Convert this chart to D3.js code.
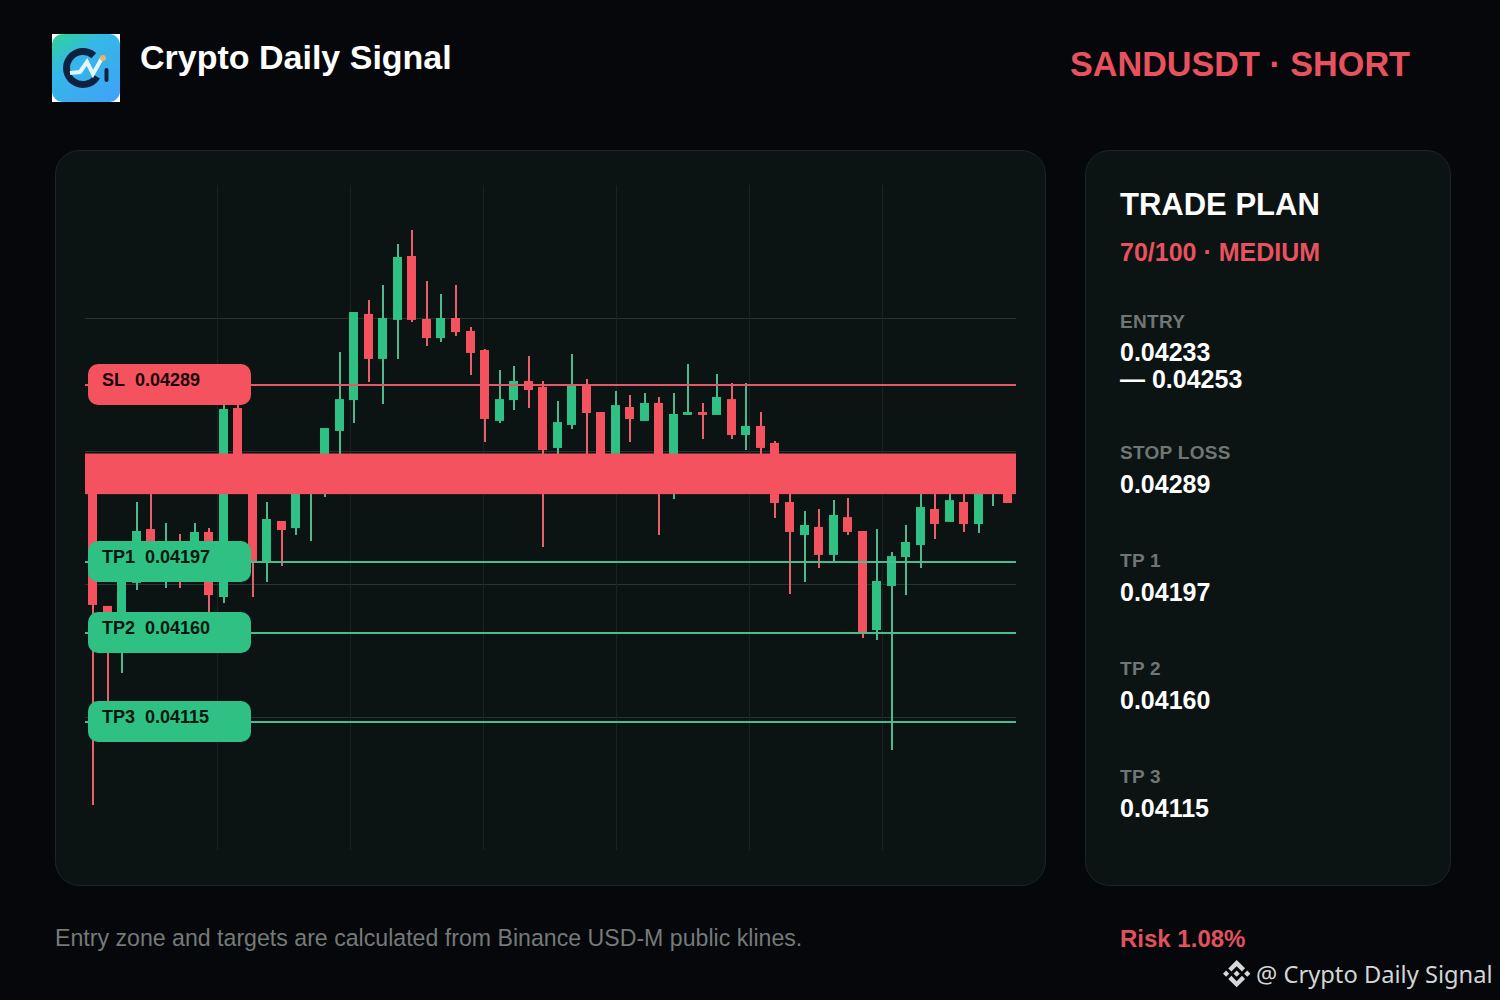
<!DOCTYPE html>
<html>
<head>
<meta charset="utf-8">
<script src="https://cdn.jsdelivr.net/npm/d3@7"></script>
<style>
html,body{margin:0;padding:0;background:#05070a;}
svg{display:block;}
text{font-family:"Liberation Sans",Arial,sans-serif;}
</style>
</head>
<body>
<svg width="1500" height="1000"></svg>
<script>
/* candle values */
const opens=[0.04245,0.041746,0.04157,0.041865,0.042144,0.041953,0.042025,0.041958,0.042129,0.041792,0.042771,0.042398,0.041973,0.042186,0.042149,0.042372,0.042372,0.042652,0.042812,0.043258,0.043025,0.043227,0.043558,0.043232,0.043133,0.043237,0.04317,0.043071,0.042704,0.042812,0.042911,0.04288,0.042564,0.042683,0.042895,0.04275,0.04245,0.042776,0.042704,0.042797,0.042398,0.042735,0.04275,0.042735,0.042817,0.042631,0.042678,0.04259,0.042284,0.042113,0.042155,0.04201,0.042206,0.042134,0.041621,0.041849,0.041999,0.042061,0.042248,0.042181,0.042284,0.04217,0.042357,0.042398];
const highs=[0.042502,0.041746,0.041906,0.042284,0.042398,0.042175,0.042118,0.042175,0.042149,0.042838,0.042838,0.042476,0.042284,0.042186,0.04245,0.042502,0.042667,0.043061,0.043268,0.04333,0.043408,0.04362,0.043693,0.043429,0.043361,0.043408,0.04319,0.043076,0.042968,0.042988,0.04304,0.042911,0.042807,0.043051,0.042921,0.04275,0.042859,0.042838,0.042849,0.042828,0.042849,0.042999,0.042797,0.042947,0.0429,0.0429,0.04275,0.0426,0.042424,0.042237,0.042248,0.042294,0.042305,0.042134,0.042144,0.042025,0.042165,0.042424,0.042398,0.042346,0.042398,0.04245,0.04245,0.042398];
const lows=[0.040715,0.041243,0.041399,0.041828,0.041906,0.041839,0.041839,0.041891,0.041647,0.041761,0.042346,0.041792,0.04187,0.041953,0.042113,0.042082,0.04231,0.042502,0.042693,0.042906,0.042792,0.043025,0.043216,0.043092,0.043113,0.043144,0.042942,0.042595,0.042693,0.042761,0.042771,0.042051,0.042527,0.042662,0.042502,0.042424,0.042424,0.042595,0.042704,0.042113,0.0423,0.042735,0.04261,0.042735,0.04261,0.042553,0.042527,0.042201,0.041808,0.04187,0.041942,0.041973,0.042113,0.04158,0.04157,0.041,0.041802,0.041942,0.042092,0.042181,0.042129,0.042124,0.042263,0.042279];
const closes=[0.041751,0.04157,0.041906,0.042134,0.041953,0.042025,0.041958,0.042129,0.041802,0.042766,0.042398,0.041973,0.042196,0.042139,0.042398,0.04245,0.042667,0.042817,0.043268,0.043025,0.043237,0.043553,0.043227,0.043133,0.043237,0.043164,0.043056,0.042714,0.042817,0.042911,0.042864,0.042553,0.042698,0.042885,0.042745,0.04245,0.042786,0.042714,0.042797,0.04245,0.04274,0.04275,0.042735,0.042828,0.042631,0.042678,0.042564,0.042279,0.042129,0.042165,0.04201,0.042217,0.042129,0.041606,0.041875,0.042004,0.042077,0.042258,0.04217,0.042294,0.04217,0.042372,0.04245,0.042279];

const entryLow=0.04233, entryHigh=0.04253;
const levelNames=['SL','TP1','TP2','TP3'];
const levelPrices=[0.04289,0.041975,0.041605,0.041147];
const levelTexts=['0.04289','0.04197','0.04160','0.04115'];
const planLabels=['STOP LOSS','TP 1','TP 2','TP 3'];
const planValues=['0.04289','0.04197','0.04160','0.04115'];

const red='#f4525f', green='#2fc084', textRed='#e8525f', labelGrey='#6f7674';
const svg=d3.select('svg');

const plotLeft=85, plotRight=1016, plotTop=185, plotBottom=850;
const x=d3.scalePoint().domain(d3.range(opens.length)).range([92.5,1007.3]);
const y=d3.scaleLinear().domain([0.04289,0.04115]).range([385,721]);
const bodyLeft=i=>Math.round(x(i)-4.5);

const defs=svg.append('defs');
const logoGrad=defs.append('linearGradient').attr('id','logoGrad')
  .attr('x1',0).attr('y1',0).attr('x2',0.75).attr('y2',1);
logoGrad.append('stop').attr('offset','0%').attr('stop-color','#2fd58f');
logoGrad.append('stop').attr('offset','40%').attr('stop-color','#34b8e8');
logoGrad.append('stop').attr('offset','100%').attr('stop-color','#3fa4f6');

/* header */
const logo=svg.append('g');
logo.append('rect').attr('x',52).attr('y',34).attr('width',68).attr('height',68).attr('fill','#fff');
logo.append('rect').attr('x',52).attr('y',34).attr('width',68).attr('height',68).attr('rx',11).attr('fill','url(#logoGrad)');
logo.append('path')
  .attr('d',d3.arc()({innerRadius:13,outerRadius:20,startAngle:2.13,endAngle:7.0,cornerRadius:3}))
  .attr('transform','translate(83,68)').attr('fill','#0d2240');
logo.append('rect').attr('x',104.5).attr('y',68).attr('width',4).attr('height',14).attr('rx',2).attr('fill','#0d2240');
logo.append('path').attr('d','M70,73L80,72L87,62L93,74L102,58').attr('fill','none')
  .attr('stroke','#e4f6fb').attr('stroke-width',4);
logo.append('circle').attr('cx',103).attr('cy',58).attr('r',3).attr('fill','#f0b35a');

svg.append('text').attr('x',140).attr('y',69).text('Crypto Daily Signal')
  .attr('font-size',34).attr('font-weight',700).attr('fill','#fff');
svg.append('text').attr('x',1070).attr('y',76).text('SANDUSDT · SHORT')
  .attr('font-size',34.2).attr('font-weight',700).attr('fill',textRed);

/* panels */
svg.append('rect').attr('x',55.5).attr('y',150.5).attr('width',990).attr('height',735).attr('rx',24)
  .attr('fill','#0c1313').attr('stroke','#1c2624');
svg.append('rect').attr('x',1085.5).attr('y',150.5).attr('width',365).attr('height',735).attr('rx',24)
  .attr('fill','#0c1313').attr('stroke','#1c2624');

/* grid */
const hGrid=d3.range(1,5).map(i=>plotTop+i*(plotBottom-plotTop)/5);
const vGrid=d3.range(1,7).map(i=>plotLeft+i*(plotRight-plotLeft)/7);
svg.append('g').selectAll('line').data(hGrid).enter().append('line')
  .attr('x1',plotLeft).attr('x2',plotRight).attr('y1',d=>Math.round(d)+0.5).attr('y2',d=>Math.round(d)+0.5)
  .attr('stroke','#2a3331').attr('stroke-width',1);
svg.append('g').selectAll('line').data(vGrid).enter().append('line')
  .attr('y1',plotTop).attr('y2',plotBottom).attr('x1',d=>Math.round(d)-0.5).attr('x2',d=>Math.round(d)-0.5)
  .attr('stroke','#1a2321').attr('stroke-width',1);

/* candles */
const candle=svg.append('g').selectAll('g').data(opens).enter().append('g');
candle.append('line')
  .attr('x1',(d,i)=>bodyLeft(i)+5).attr('x2',(d,i)=>bodyLeft(i)+5)
  .attr('y1',(d,i)=>y(highs[i])).attr('y2',(d,i)=>y(lows[i]))
  .attr('stroke',(d,i)=>closes[i]>=opens[i]?'#4fb98c':'#e8606c')
  .attr('stroke-width',2);
candle.append('rect')
  .attr('x',(d,i)=>bodyLeft(i)).attr('width',9)
  .attr('y',(d,i)=>y(Math.max(opens[i],closes[i])))
  .attr('height',(d,i)=>Math.max(1.5,Math.abs(y(opens[i])-y(closes[i]))))
  .attr('fill',(d,i)=>closes[i]>=opens[i]?green:red);

/* entry zone */
svg.append('rect').attr('x',plotLeft).attr('width',plotRight-plotLeft)
  .attr('y',y(entryHigh)-1).attr('height',y(entryLow)-y(entryHigh)+2).attr('fill',red);

/* levels */
const level=svg.append('g').selectAll('g').data(levelPrices).enter().append('g');
level.append('line').attr('x1',plotLeft).attr('x2',plotRight)
  .attr('y1',d=>Math.round(y(d))).attr('y2',d=>Math.round(y(d)))
  .attr('stroke',(d,i)=>i==0?'#e4596a':'#4abc8d').attr('stroke-width',2);
level.append('rect').attr('x',88).attr('width',163).attr('height',41).attr('rx',10)
  .attr('y',d=>Math.round(y(d))-21).attr('fill',(d,i)=>i==0?red:green);
level.append('text').attr('x',102).attr('y',d=>Math.round(y(d))+1)
  .text((d,i)=>levelNames[i]+'\u00a0\u00a0'+levelTexts[i])
  .attr('font-size',18).attr('font-weight',700).attr('fill',(d,i)=>i==0?'#1c0608':'#04180f');

/* trade plan */
const plan=svg.append('g');
const addText=(t,xp,yp,size,color,weight)=>plan.append('text').attr('x',xp).attr('y',yp).text(t)
  .attr('font-size',size).attr('fill',color).attr('font-weight',weight||700);
addText('TRADE PLAN',1120,215,31,'#fff');
addText('70/100 · MEDIUM',1120,261,25,textRed);
addText('ENTRY',1120,328,19,labelGrey).attr('letter-spacing',0.3);
addText('0.04233',1120,361,25,'#fff');
addText('— 0.04253',1120,388,25,'#fff');
const labelY=[459,567,675,783], valueY=[493,601,709,817];
planLabels.forEach((t,i)=>{
  addText(t,1120,labelY[i],19,labelGrey).attr('letter-spacing',0.3);
  addText(planValues[i],1120,valueY[i],25,'#fff');
});

/* footer */
addText('Entry zone and targets are calculated from Binance USD-M public klines.',55,946,23.15,'#747a78',400);
addText('Risk 1.08%',1120,947,24,'#e0525f');

svg.append('path')
  .attr('d','M16.624 13.9202l2.7175 2.7154-7.353 7.353-7.353-7.352 2.7175-2.7164 4.6355 4.6595 4.6356-4.6595zm4.6366-4.6366L24 12l-2.7154 2.7164L18.5682 12l2.6924-2.7164zm-9.272.001l2.7163 2.6914-2.7164 2.7174v-.001L9.2721 12l2.7164-2.7154zm-9.2722-.001L5.4088 12l-2.6914 2.6924L0 12l2.7164-2.7164zM11.9885.0115l7.353 7.329-2.7174 2.7154-4.6356-4.6356-4.6355 4.6595-2.7174-2.7154 7.353-7.353z')
  .attr('transform','translate(1223,960) scale(1.14)').attr('fill','#d8d8d8');
svg.append('text').attr('x',1256).attr('y',983).text('@ Crypto Daily Signal')
  .attr('font-size',23.7).attr('fill','#d4d4d4').style('font-family','"Noto Sans","Open Sans",sans-serif');
</script>
</body>
</html>
